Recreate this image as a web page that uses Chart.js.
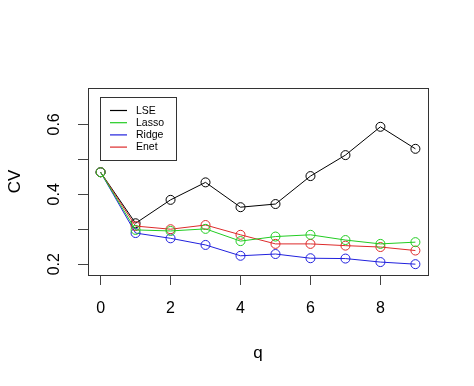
<!DOCTYPE html>
<html>
<head>
<meta charset="utf-8">
<script src="https://cdn.jsdelivr.net/npm/chart.js@4.4.1/dist/chart.umd.min.js"></script>
<style>
  html, body { margin: 0; padding: 0; background: #fff; }
  #wrap { width: 474px; height: 386px; }
</style>
</head>
<body>
<div id="wrap"><canvas id="cvChart" width="474" height="386"></canvas></div>
<script>
// q values and CV per method
const qValues = [0, 1, 2, 3, 4, 5, 6, 7, 8, 9];
const lseCV   = [0.463, 0.317, 0.384, 0.434, 0.363, 0.372, 0.452, 0.512, 0.593, 0.530];
const lassoCV = [0.463, 0.298, 0.295, 0.301, 0.266, 0.279, 0.284, 0.269, 0.258, 0.263];
const ridgeCV = [0.463, 0.289, 0.274, 0.255, 0.224, 0.229, 0.217, 0.216, 0.206, 0.200];
const enetCV  = [0.463, 0.309, 0.300, 0.312, 0.284, 0.258, 0.258, 0.253, 0.249, 0.239];

const methodNames = ['LSE', 'Lasso', 'Ridge', 'Enet'];
const methodColors = ['#000000', '#22cc22', '#2020dd', '#dd2a2a'];

const xTicks = [0, 2, 4, 6, 8];
const yTicks = [0.2, 0.3, 0.4, 0.5, 0.6];
const yTickLabels = ['0.2', '', '0.4', '', '0.6'];

const FONT = "'Liberation Sans', Arial, sans-serif";

function series(label, values, color, order) {
    return {
        label: label,
        data: qValues.map((q, i) => ({ x: q, y: values[i] })),
        borderColor: color,
        backgroundColor: 'rgba(0,0,0,0)',
        borderWidth: 1,
        pointRadius: 4.5,
        pointBorderWidth: 1,
        pointBorderColor: color,
        pointBackgroundColor: 'rgba(0,0,0,0)',
        tension: 0,
        order: order
    };
}

// R style box, labels, titles and legend
const rAxes = {
    id: 'rAxes',
    afterDraw(chart) {
        const ctx = chart.ctx;
        const area = chart.chartArea;
        const xs = chart.scales.x;
        const ys = chart.scales.y;
        ctx.save();

        ctx.strokeStyle = '#333';
        ctx.lineWidth = 1;
        ctx.strokeRect(Math.round(area.left) + 0.5, Math.round(area.top) + 0.5,
            Math.round(area.right - area.left), Math.round(area.bottom - area.top));

        ctx.fillStyle = '#000';
        ctx.font = '16px ' + FONT;
        ctx.textAlign = 'center';
        ctx.textBaseline = 'middle';
        xTicks.forEach(v => {
            ctx.fillText(String(v), xs.getPixelForValue(v), 309);
        });

        yTicks.forEach((v, i) => {
            if (!yTickLabels[i]) return;
            ctx.save();
            ctx.translate(55, ys.getPixelForValue(v));
            ctx.rotate(-Math.PI / 2);
            ctx.fillText(yTickLabels[i], 0, 0);
            ctx.restore();
        });

        ctx.font = '17px ' + FONT;
        ctx.fillText('q', (area.left + area.right) / 2, 353);
        ctx.save();
        ctx.translate(15, (area.top + area.bottom) / 2);
        ctx.rotate(-Math.PI / 2);
        ctx.fillText('CV', 0, 0);
        ctx.restore();

        // legend
        const lx = 100, ly = 97, lw = 76, lh = 63;
        ctx.strokeStyle = '#333';
        ctx.strokeRect(lx + 0.5, ly + 0.5, lw, lh);
        ctx.font = '10.5px ' + FONT;
        ctx.textAlign = 'left';
        methodNames.forEach((name, i) => {
            const yy = ly + 13.5 + i * 12.2;
            ctx.beginPath();
            ctx.strokeStyle = methodColors[i];
            ctx.lineWidth = 1.2;
            ctx.moveTo(110, yy);
            ctx.lineTo(127, yy);
            ctx.stroke();
            ctx.fillStyle = '#000';
            ctx.fillText(name, 136, yy + 0.5);
        });
        ctx.restore();
    }
};

new Chart(document.getElementById('cvChart'), {
    type: 'line',
    data: {
        datasets: [
            series(methodNames[0], lseCV, methodColors[0], 4),
            series(methodNames[1], lassoCV, methodColors[1], 0),
            series(methodNames[2], ridgeCV, methodColors[2], 2),
            series(methodNames[3], enetCV, methodColors[3], 1)
        ]
    },
    options: {
        responsive: false,
        animation: false,
        layout: { padding: { left: 78, right: 46, top: 88, bottom: 101 } },
        plugins: {
            legend: { display: false },
            tooltip: { enabled: false }
        },
        scales: {
            x: {
                type: 'linear',
                min: -0.36,
                max: 9.36,
                afterBuildTicks: s => { s.ticks = xTicks.map(v => ({ value: v })); },
                ticks: { display: false },
                border: { display: false },
                grid: { drawOnChartArea: false, drawTicks: true, tickLength: 10, color: '#444', lineWidth: 1 }
            },
            y: {
                type: 'linear',
                min: 0.169,
                max: 0.704,
                afterBuildTicks: s => { s.ticks = yTicks.map(v => ({ value: v })); },
                ticks: { display: false },
                border: { display: false },
                grid: { drawOnChartArea: false, drawTicks: true, tickLength: 10, color: '#444', lineWidth: 1 }
            }
        }
    },
    plugins: [rAxes]
});
</script>
</body>
</html>
